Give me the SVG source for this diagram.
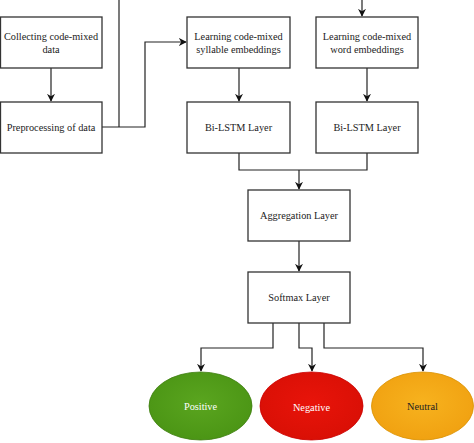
<svg xmlns="http://www.w3.org/2000/svg" width="474" height="443" viewBox="0 0 474 443">
<defs>
<style>
.box{fill:#fff;stroke:#333;stroke-width:1.3}
.t{font-family:'Liberation Serif','DejaVu Serif',serif;font-size:10.3px;fill:#222;text-anchor:middle}
.w{fill:#fff}
.ln{fill:none;stroke:#222;stroke-width:1.2}
</style>
<marker id="ah" viewBox="0 0 10 10" refX="9" refY="5" markerWidth="8" markerHeight="8" markerUnits="userSpaceOnUse" orient="auto">
<path d="M0,0 L10,5 L0,10 L3,5 Z" fill="#111"/>
</marker>
<radialGradient id="gp" cx="0.5" cy="0.45" r="0.6"><stop offset="0" stop-color="#5aa51f"/><stop offset="1" stop-color="#4a9414"/></radialGradient>
<radialGradient id="gn" cx="0.5" cy="0.45" r="0.6"><stop offset="0" stop-color="#e8140a"/><stop offset="1" stop-color="#d80f05"/></radialGradient>
<radialGradient id="gu" cx="0.5" cy="0.45" r="0.6"><stop offset="0" stop-color="#f7b21e"/><stop offset="1" stop-color="#f0a010"/></radialGradient>
</defs>
<rect width="474" height="443" fill="#fff"/>
<g id="connectors">
<line class="ln" x1="51" y1="68" x2="51" y2="101" marker-end="url(#ah)"/>
<polyline class="ln" points="119,0 119,127"/>
<polyline class="ln" points="102,127 145,127 145,42 186,42" marker-end="url(#ah)"/>
<line class="ln" x1="362" y1="0" x2="362" y2="16" marker-end="url(#ah)"/>
<line class="ln" x1="239" y1="68" x2="239" y2="101" marker-end="url(#ah)"/>
<line class="ln" x1="367" y1="68" x2="367" y2="101" marker-end="url(#ah)"/>
<polyline class="ln" points="239,153 239,170 367,170 367,153"/>
<line class="ln" x1="299" y1="170" x2="299" y2="189" marker-end="url(#ah)"/>
<line class="ln" x1="299" y1="241" x2="299" y2="271" marker-end="url(#ah)"/>
<polyline class="ln" points="273,323 273,348 201,348 201,371" marker-end="url(#ah)"/>
<polyline class="ln" points="299,323 299,348 312,348 312,371" marker-end="url(#ah)"/>
<polyline class="ln" points="324,323 324,348 423,348 423,371" marker-end="url(#ah)"/>
</g>
<g id="collect"><rect class="box" x="0.5" y="17" width="101.5" height="51"/><text class="t" font-family="Liberation Serif, serif" x="51" y="40">Collecting code-mixed</text><text class="t" font-family="Liberation Serif, serif" x="51" y="53">data</text></g>
<g id="preprocess"><rect class="box" x="0.5" y="102" width="101.5" height="51"/><text class="t" font-family="Liberation Serif, serif" x="51" y="131">Preprocessing of data</text></g>
<g id="syllable"><rect class="box" x="187" y="17" width="103" height="51"/><text class="t" font-family="Liberation Serif, serif" x="238.5" y="40">Learning code-mixed</text><text class="t" font-family="Liberation Serif, serif" x="238.5" y="53">syllable embeddings</text></g>
<g id="word"><rect class="box" x="316" y="17" width="102" height="51"/><text class="t" font-family="Liberation Serif, serif" x="367" y="40">Learning code-mixed</text><text class="t" font-family="Liberation Serif, serif" x="367" y="53">word embeddings</text></g>
<g id="bilstm1"><rect class="box" x="187" y="102" width="103" height="51"/><text class="t" font-family="Liberation Serif, serif" x="238.5" y="131">Bi-LSTM Layer</text></g>
<g id="bilstm2"><rect class="box" x="316" y="102" width="102" height="51"/><text class="t" font-family="Liberation Serif, serif" x="367" y="131">Bi-LSTM Layer</text></g>
<g id="aggregation"><rect class="box" x="248" y="190" width="102" height="51"/><text class="t" font-family="Liberation Serif, serif" x="299" y="219">Aggregation Layer</text></g>
<g id="softmax"><rect class="box" x="248" y="272" width="102" height="51"/><text class="t" font-family="Liberation Serif, serif" x="299" y="301">Softmax Layer</text></g>
<g id="positive"><ellipse cx="200.5" cy="406" rx="51.5" ry="34" fill="url(#gp)" stroke="#3f7f10" stroke-width="0.8"/><text class="t w" font-family="Liberation Serif, serif" x="200.5" y="410">Positive</text></g>
<g id="negative"><ellipse cx="311.5" cy="406" rx="51.5" ry="34" fill="url(#gn)" stroke="#c00" stroke-width="0.8"/><text class="t w" font-family="Liberation Serif, serif" x="311.5" y="411">Negative</text></g>
<g id="neutral"><ellipse cx="422.5" cy="406" rx="51" ry="34" fill="url(#gu)" stroke="#d99000" stroke-width="0.8"/><text class="t" font-family="Liberation Serif, serif" x="422.5" y="410">Neutral</text></g>
</svg>
